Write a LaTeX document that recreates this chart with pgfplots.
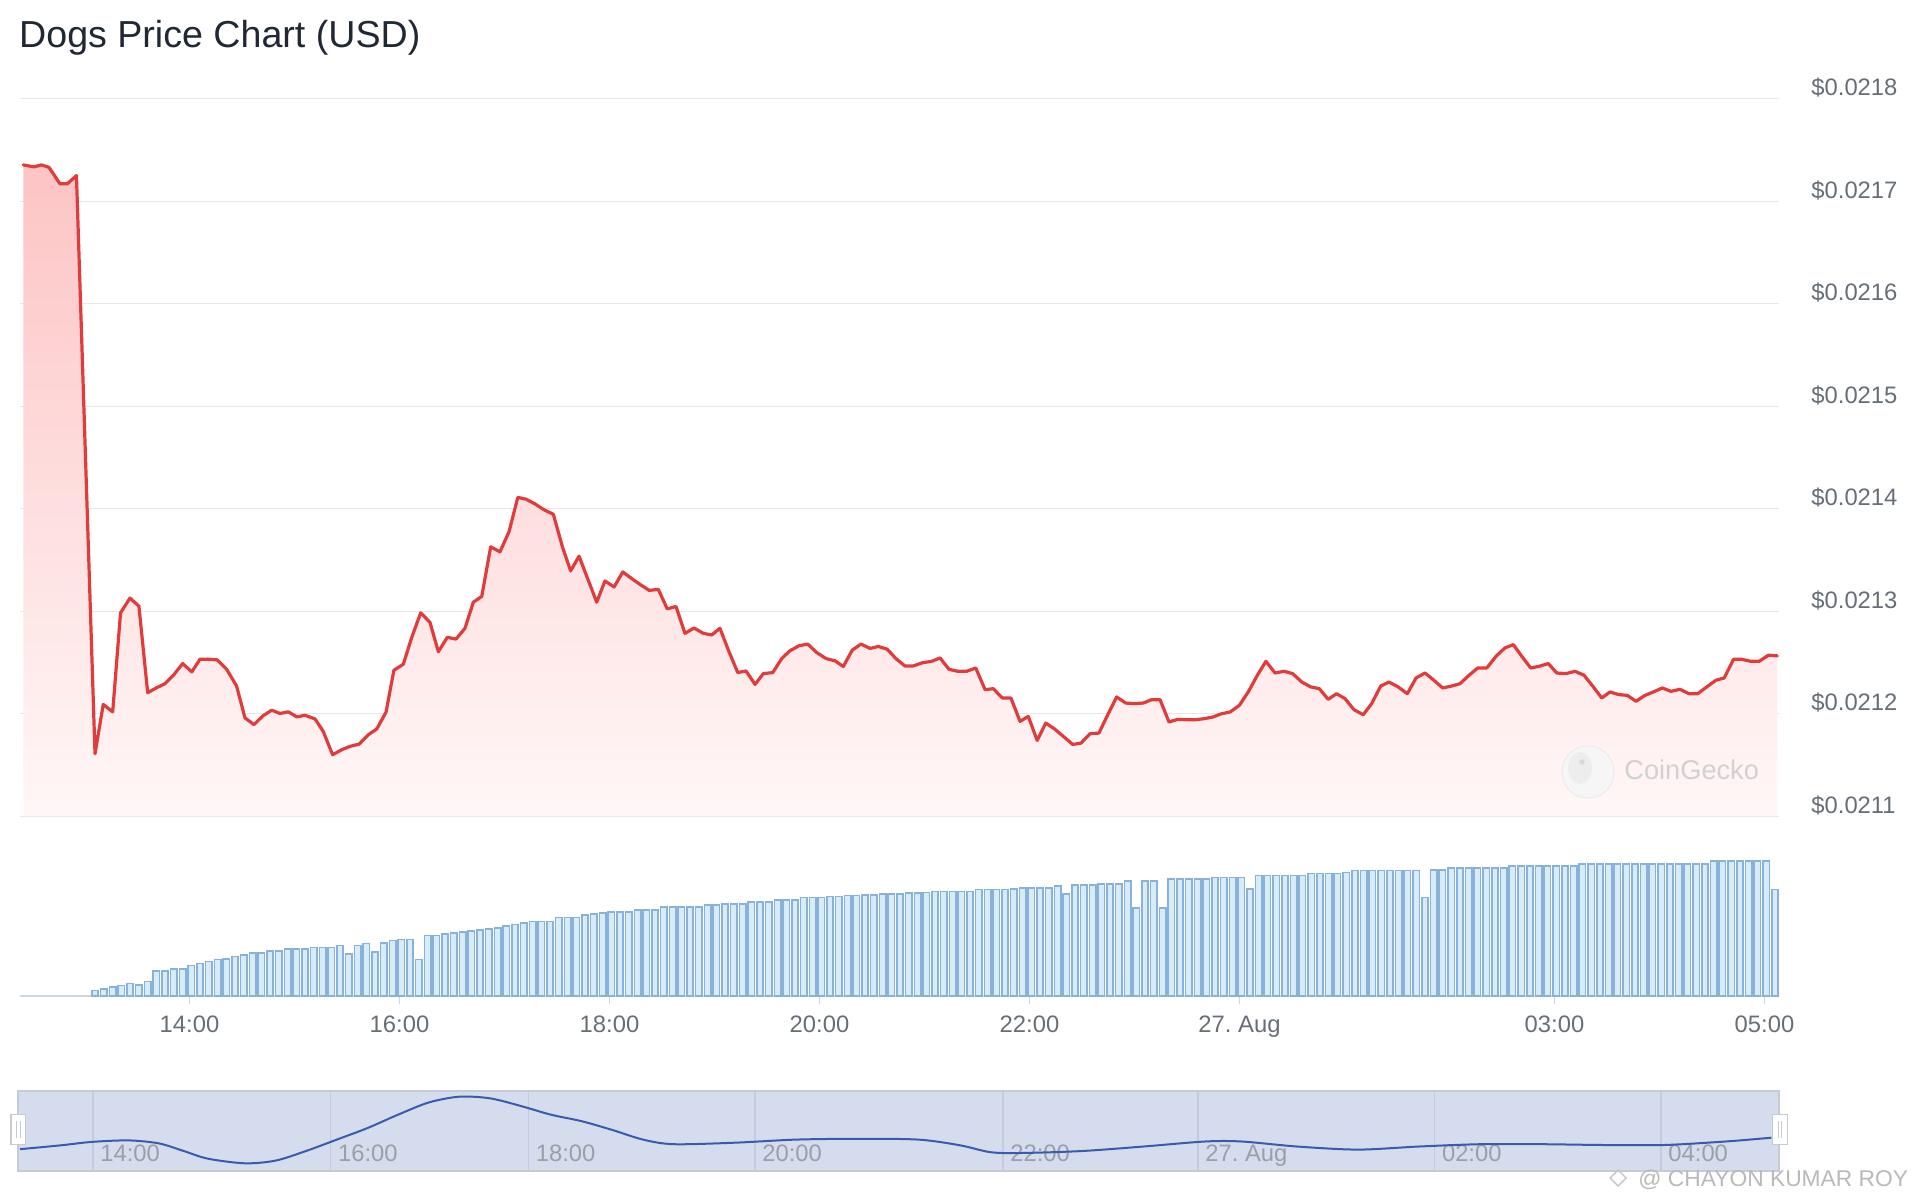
\documentclass[border=0pt]{standalone}
\usepackage{fontspec}
\setmainfont{Liberation Sans}
\usepackage{pgfplots}
\usepackage{pgfplotstable}
\pgfplotsset{compat=1.18}
\frenchspacing
\definecolor{titlecol}{HTML}{202833}
\definecolor{labcol}{HTML}{666E77}
\definecolor{gridcol}{HTML}{E8E8E8}
\definecolor{pricered}{HTML}{E03C3C}
\definecolor{filltop}{HTML}{FDC4C4}
\definecolor{fillbot}{HTML}{FFF7F7}
\definecolor{volfill}{HTML}{D6ECFB}
\definecolor{voldraw}{HTML}{8AB2D9}
\definecolor{axiscol}{HTML}{CCD6EB}
\definecolor{navfill}{HTML}{D4DCEE}
\definecolor{navline}{HTML}{3A5BAA}
\definecolor{navgrid}{HTML}{C3CBDD}
\definecolor{navlab}{HTML}{9A9FA8}
\definecolor{navborder}{HTML}{C6CAD4}

% price: x = minutes after 26 Aug 12:00, y = price in USD
\pgfplotstableread{
x y
25.0 0.0217354
31.0 0.0217335
35.5 0.0217354
39.7 0.0217330
46.0 0.0217170
50.2 0.0217170
55.4 0.0217250
66.0 0.0211609
70.7 0.0212090
76.1 0.0212018
80.6 0.0212984
86.0 0.0213128
91.1 0.0213049
96.1 0.0212205
101.3 0.0212254
106.0 0.0212293
110.8 0.0212375
116.1 0.0212489
121.3 0.0212408
126.0 0.0212532
130.7 0.0212532
135.9 0.0212525
141.2 0.0212434
146.9 0.0212270
151.7 0.0211959
156.8 0.0211894
162.2 0.0211982
167.0 0.0212034
171.7 0.0212002
176.5 0.0212018
181.3 0.0211969
186.0 0.0211985
191.7 0.0211949
196.4 0.0211828
201.8 0.0211599
206.9 0.0211648
211.7 0.0211681
217.0 0.0211704
222.2 0.0211795
227.0 0.0211851
232.3 0.0212015
236.8 0.0212424
242.2 0.0212483
247.0 0.0212745
252.1 0.0212984
257.4 0.0212892
262.2 0.0212604
267.3 0.0212745
272.3 0.0212728
277.4 0.0212833
282.2 0.0213088
287.0 0.0213144
292.1 0.0213628
297.4 0.0213579
302.6 0.0213776
307.6 0.0214110
312.3 0.0214093
317.4 0.0214047
322.6 0.0213989
327.9 0.0213946
333.2 0.0213622
337.8 0.0213393
342.6 0.0213537
347.5 0.0213318
352.7 0.0213088
357.4 0.0213295
362.6 0.0213236
367.6 0.0213383
372.7 0.0213318
377.4 0.0213262
382.7 0.0213203
387.9 0.0213213
393.0 0.0213023
398.0 0.0213046
403.1 0.0212784
408.3 0.0212836
413.6 0.0212784
418.4 0.0212768
423.1 0.0212833
428.3 0.0212604
433.3 0.0212401
438.0 0.0212417
443.2 0.0212286
447.9 0.0212391
453.3 0.0212401
458.4 0.0212538
463.1 0.0212614
468.3 0.0212663
473.3 0.0212679
478.4 0.0212597
483.7 0.0212538
488.9 0.0212516
493.6 0.0212460
498.7 0.0212620
503.7 0.0212679
508.9 0.0212637
513.6 0.0212656
518.7 0.0212629
523.7 0.0212537
528.8 0.0212466
533.6 0.0212466
539.0 0.0212498
544.1 0.0212511
548.9 0.0212544
554.0 0.0212433
559.0 0.0212414
564.1 0.0212414
569.3 0.0212446
574.6 0.0212235
579.3 0.0212244
584.5 0.0212153
589.4 0.0212153
594.6 0.0211925
599.3 0.0211974
604.4 0.0211739
609.3 0.0211909
614.2 0.0211853
619.3 0.0211779
624.7 0.0211700
629.4 0.0211713
634.6 0.0211805
639.7 0.0211811
644.7 0.0211990
649.8 0.0212163
655.0 0.0212104
659.7 0.0212098
665.0 0.0212104
669.8 0.0212137
674.6 0.0212137
679.7 0.0211919
684.7 0.0211945
689.8 0.0211941
694.6 0.0211941
699.7 0.0211951
704.7 0.0211967
709.8 0.0212000
714.6 0.0212016
719.9 0.0212081
725.0 0.0212212
730.2 0.0212375
735.1 0.0212511
740.3 0.0212397
745.4 0.0212414
750.4 0.0212391
755.6 0.0212309
760.7 0.0212261
765.6 0.0212244
770.7 0.0212140
775.5 0.0212195
780.3 0.0212147
785.4 0.0212039
790.7 0.0211990
795.5 0.0212098
800.7 0.0212270
805.4 0.0212309
810.7 0.0212261
815.9 0.0212195
820.9 0.0212349
826.0 0.0212397
831.1 0.0212326
836.1 0.0212251
841.3 0.0212270
846.0 0.0212293
851.2 0.0212375
856.1 0.0212446
861.3 0.0212446
866.6 0.0212560
871.7 0.0212642
876.5 0.0212674
881.3 0.0212560
886.4 0.0212446
891.3 0.0212463
896.5 0.0212489
901.3 0.0212397
906.6 0.0212391
911.7 0.0212414
916.9 0.0212375
921.8 0.0212270
927.0 0.0212153
931.7 0.0212212
936.8 0.0212186
941.6 0.0212179
946.6 0.0212121
951.7 0.0212179
956.5 0.0212212
961.6 0.0212251
966.6 0.0212218
971.7 0.0212238
976.9 0.0212195
981.8 0.0212195
987.0 0.0212261
992.2 0.0212326
997.0 0.0212349
1002.3 0.0212531
1007.0 0.0212531
1012.1 0.0212511
1017.0 0.0212511
1022.2 0.0212570
1027.3 0.0212564
}\price

% volume (relative units), 5-minute bars
\pgfplotstableread{
x v
66 5.5
71 7
76 9
81 10.5
86 12.5
91 10.7
96 14.5
101 24.9
106 24.9
111 26.8
116 26.8
121 30.6
126 32.5
131 34.4
136 36.4
141 37.1
146 39.4
151 41
156 42.9
161 42.9
166 44.8
171 45.2
176 46.7
181 46.7
186 46.7
191 48.6
196 48.6
201 48.6
206 50.5
211 42.1
216 50.5
221 52.4
226 44
231 52.8
236 55.5
241 56.6
246 56.6
251 36.4
256 60.5
261 60.5
266 62
271 63.1
276 64.3
281 65.1
286 66.2
291 67
296 68.1
301 70
306 71.6
311 72.7
316 74.6
321 74.6
326 74.6
331 78.5
336 78.5
341 78.5
346 81.1
351 82.3
356 83
361 84.2
366 84.2
371 84.2
376 86.1
381 86.1
386 86.1
391 88.8
396 88.8
401 88.8
406 88.8
411 88.8
416 90.7
421 91.1
426 91.8
431 91.8
436 91.8
441 93.8
446 93.8
451 93.8
456 95.7
461 95.7
466 95.7
471 98.4
476 98.4
481 98.4
486 99.5
491 99.5
496 100.5
501 100.5
506 101
511 101
516 102
521 102
526 102
531 103
536 103
541 103.5
546 104.5
551 104.5
556 104.5
561 104.5
566 104.5
571 106.4
576 106.4
581 106.4
586 106.4
591 107.2
596 108.3
601 108.3
606 108.3
611 108.3
616 109.8
621 102.2
626 111
631 111
636 111
641 112.1
646 112.1
651 112.1
656 114.8
661 88
666 114.8
671 114.8
676 88
681 116.7
686 116.7
691 116.7
696 116.7
701 116.7
706 118.6
711 118.6
716 118.6
721 118.6
726 107.2
731 120.5
736 120.5
741 120.5
746 120.5
751 120.5
756 120.5
761 122.5
766 122.5
771 122.5
776 122.5
781 123.5
786 125.5
791 125.5
796 125.5
801 125.5
806 125.5
811 125.5
816 125.5
821 125.5
826 98.4
831 126.3
836 126.3
841 128.2
846 128.2
851 128.2
856 128.2
861 128.2
866 128.2
871 128.2
876 130.1
881 130.1
886 130.1
891 130.1
896 130.1
901 130.1
906 130.1
911 130.1
916 132
921 132
926 132
931 132
936 132
941 132
946 132
951 132
956 132
961 132
966 132
971 132
976 132
981 132
986 132
991 134.7
996 134.7
1001 134.7
1006 134.7
1011 134.7
1016 134.7
1021 134.7
1026 106.4
}\volume

% navigator series (position along navigator, height)
\pgfplotstableread{
x y
20 21.8
61 25.7
92 29.1
128.6 30.6
159 27.6
183.7 20
208 12.3
245 7.7
275.6 10.4
306 20
336.8 31.4
367.4 42.9
398 56.3
428.7 68.5
459.3 74.3
489.9 72.7
520.5 65.1
551 56.3
581.7 49.8
612.4 41
643 31.4
673.6 26.8
734.8 28.3
796 31.4
857.3 32.2
918.5 31.4
960 25.7
990.6 18.8
1021.2 18
1082.5 20
1143.7 24.5
1205 29.5
1241.7 29.5
1296.8 24.5
1358 21.4
1419.3 24.5
1480.5 26.8
1541.8 26.8
1603 26
1664.2 26
1725.5 29.5
1771.4 33.3
}\nav

\begin{document}
\begin{tikzpicture}
\useasboundingbox (0,0) rectangle (961pt,600pt);
\node[anchor=base west, inner sep=0pt, text=titlecol, font=\fontsize{18.8}{22}\selectfont] at (9.4pt,576.1pt) {Dogs Price Chart (USD)};

% ---------- price pane ----------
\begin{axis}[at={(10pt,191.9pt)}, anchor=south west, scale only axis,
  width=879.5pt, height=358.75pt,
  xmin=23.14, xmax=1028.3, ymin=0.0211, ymax=0.0218,
  axis line style={draw=none}, xtick=\empty,
  ytick={0.0211,0.0212,0.0213,0.0214,0.0215,0.0216,0.0217,0.0218},
  yticklabels={\$0.0211,\$0.0212,\$0.0213,\$0.0214,\$0.0215,\$0.0216,\$0.0217,\$0.0218},
  scaled y ticks=false,
  yticklabel pos=right, ymajorgrids,
  major grid style={gridcol, line width=0.6pt},
  major tick length=0pt,
  yticklabel style={anchor=base west, inner sep=0pt, xshift=16pt, yshift=1.35pt,
    text=labcol, font=\fontsize{11.9}{14}\selectfont}]
  \addplot[draw=none, top color=filltop, bottom color=fillbot]
    table {\price} -- (axis cs:1027.3,0.0211) -- (axis cs:25,0.0211) -- cycle;
  \addplot[pricered, line width=1.6pt, line join=round, line cap=round] table {\price};
\end{axis}

% ---------- volume pane ----------
\begin{axis}[at={(10pt,102pt)}, anchor=south west, scale only axis,
  width=879.5pt, height=70pt,
  xmin=23.14, xmax=1028.3, ymin=0, ymax=140,
  axis y line=none, axis x line*=bottom,
  x axis line style={axiscol, line width=0.6pt, -},
  xtick={120,240,360,480,600,720,900,1020},
  xticklabels={14:00,16:00,18:00,20:00,22:00,27. Aug,03:00,05:00},
  tick align=outside, major tick length=4pt,
  xtick style={axiscol, line width=0.6pt},
  xticklabel style={anchor=base, inner sep=0pt, yshift=-14pt,
    text=labcol, font=\fontsize{11.9}{14}\selectfont}]
  \addplot[ybar, bar width=3.6, fill=volfill, draw=voldraw, line width=0.85pt] table {\volume};
\end{axis}

% ---------- navigator ----------
\begin{axis}[at={(9pt,14.5pt)}, anchor=south west, scale only axis,
  width=880.5pt, height=40pt,
  xmin=18, xmax=1779, ymin=0, ymax=80,
  axis background/.style={fill=navfill},
  axis line style={navborder, line width=0.7pt},
  ytick=\empty,
  xtick={93,330.7,528.5,755,1003,1198,1434.6,1661},
  xticklabels={14:00,16:00,18:00,20:00,22:00,27. Aug,02:00,04:00},
  xmajorgrids, major grid style={navgrid, line width=0.6pt},
  major tick length=0pt,
  xticklabel style={anchor=base west, inner sep=0pt, xshift=3.5pt, yshift=4.6pt,
    text=navlab, font=\fontsize{11.9}{14}\selectfont}]
  \addplot[navline, line width=1pt, smooth] table {\nav};
\end{axis}

% navigator handles
\foreach \hx in {5.5pt,886.3pt}{
  \draw[fill=white, draw=navborder, line width=0.6pt] (\hx,27.9pt) rectangle ++(7.3pt,14.8pt);
  \draw[navborder, line width=0.5pt] ([xshift=2.8pt]\hx,31pt) -- ++(0,8.5pt);
  \draw[navborder, line width=0.5pt] ([xshift=4.5pt]\hx,31pt) -- ++(0,8.5pt);
}

% CoinGecko watermark
\fill[gray!7] (794pt,214pt) circle (13pt);
\draw[gray!14, line width=0.6pt] (794pt,214pt) circle (13pt);
\fill[gray!14] (790pt,216pt) ellipse (6pt and 8pt);
\fill[gray!30] (791pt,219pt) circle (1.4pt);
\node[anchor=west, inner sep=0pt, text=black!18, font=\fontsize{13.6}{16}\selectfont] at (812pt,215pt) {CoinGecko};

% author watermark
\draw[gray!45, line width=0.7pt] (809pt,7pt) -- (813pt,11pt) -- (809pt,15pt) -- (805pt,11pt) -- cycle;
\node[anchor=base west, inner sep=0pt, text=gray!55, font=\fontsize{11.4}{13}\selectfont] at (819pt,7pt) {@ CHAYON KUMAR ROY};
\end{tikzpicture}
\end{document}
